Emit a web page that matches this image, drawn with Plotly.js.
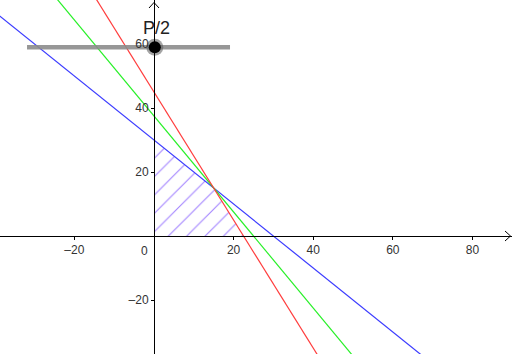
<!DOCTYPE html>
<html>
<head>
<meta charset="utf-8">
<script src="https://cdn.plot.ly/plotly-3.0.1.min.js"></script>
<style>html,body{margin:0;padding:0;background:#fff;}#chart{width:512px;height:354px;}</style>
</head>
<body>
<div id="chart"></div>
<script>
// Constraint lines (endpoints)
const blueX = [-40, 70];
const blueY = [70, -40];
const redX = [-15, 42];
const redY = [75, -39];
const greenX = [-25, 51];
const greenY = [75, -39];
// Feasible (hatched) region
const regionX = [0, 22.5, 15, 0, 0];
const regionY = [0, 0, 15, 30, 0];
// Slider P/2
const sliderX = [-31.9, 19.1];
const sliderY = [59, 59];
const sliderValueX = [0.2];
const sliderValueY = [59];
// Tick labels
const xTicks = [-20, 20, 40, 60, 80];
const yTicks = [-20, 20, 40, 60];

const xr = [-38.69, 89.95];
const yr = [-36.875, 73.75];

const traces = [
  {x: regionX, y: regionY, mode: 'lines', fill: 'toself', line: {width: 0, color: 'rgba(0,0,0,0)'},
   fillcolor: 'rgba(0,0,0,0)',
   fillpattern: {shape: '/', fgcolor: '#a080ff', bgcolor: 'rgba(0,0,0,0)', size: 13, solidity: 0.08}},
  {x: blueX, y: blueY, mode: 'lines', line: {color: 'rgb(60,60,255)', width: 1.2}},
  {x: greenX, y: greenY, mode: 'lines', line: {color: 'rgb(40,240,40)', width: 1.2}},
  {x: redX, y: redY, mode: 'lines', line: {color: 'rgb(255,60,60)', width: 1.2}},
  {x: sliderX, y: sliderY, mode: 'lines', line: {color: 'rgba(140,140,140,0.9)', width: 4.5}},
  {x: sliderValueX, y: sliderValueY, mode: 'markers', marker: {size: 17, color: 'rgba(90,90,90,0.55)', line: {width: 0}}},
  {x: sliderValueX, y: sliderValueY, mode: 'markers', marker: {size: 12, color: '#000', line: {width: 0}}}
];

function px2paperX(p){ return p/512; }
function px2paperY(p){ return 1 - p/354; }

const layout = {
  width: 512, height: 354,
  margin: {l: 0, r: 0, t: 0, b: 0, pad: 0},
  paper_bgcolor: '#fff', plot_bgcolor: '#fff',
  showlegend: false,
  font: {family: 'Liberation Sans, Arial, sans-serif', size: 12, color: '#333'},
  xaxis: {range: xr, anchor: 'free', position: (0 - yr[0])/(yr[1]-yr[0]),
          showgrid: false, zeroline: false, showline: true, linecolor: '#000', linewidth: 1,
          ticks: 'outside', ticklen: 3, tickcolor: '#000', tickvals: xTicks, ticktext: xTicks.map(v => v < 0 ? '\u2013' + Math.abs(v) : String(v)),
          tickfont: {size: 12, color: '#333'}},
  yaxis: {range: yr, anchor: 'free', position: (0 - xr[0])/(xr[1]-xr[0]),
          showgrid: false, zeroline: false, showline: true, linecolor: '#000', linewidth: 1,
          ticks: 'outside', ticklen: 3, tickcolor: '#000', tickvals: yTicks, ticktext: yTicks.map(v => v < 0 ? '\u2013' + Math.abs(v) : String(v)),
          tickfont: {size: 12, color: '#333'}},
  shapes: [
    {type: 'path', xref: 'paper', yref: 'paper',
     path: `M ${px2paperX(505)},${px2paperY(231)} L ${px2paperX(510.5)},${px2paperY(236)} L ${px2paperX(505)},${px2paperY(241)}`,
     line: {color: '#000', width: 1}},
    {type: 'path', xref: 'paper', yref: 'paper',
     path: `M ${px2paperX(149)},${px2paperY(8)} L ${px2paperX(154)},${px2paperY(2.5)} L ${px2paperX(159)},${px2paperY(8)}`,
     line: {color: '#000', width: 1}}
  ],
  annotations: [
    {x: 0, y: 0, xref: 'x', yref: 'y', text: '0', showarrow: false, xanchor: 'right', yanchor: 'top', xshift: -4, yshift: -6,
     font: {size: 12, color: '#333'}},
    {x: 0.75, y: 65, xref: 'x', yref: 'y', text: 'P/2', showarrow: false, font: {size: 18, color: '#222'}}
  ]
};

Plotly.newPlot('chart', traces, layout, {displayModeBar: false, staticPlot: true});
</script>
</body>
</html>
